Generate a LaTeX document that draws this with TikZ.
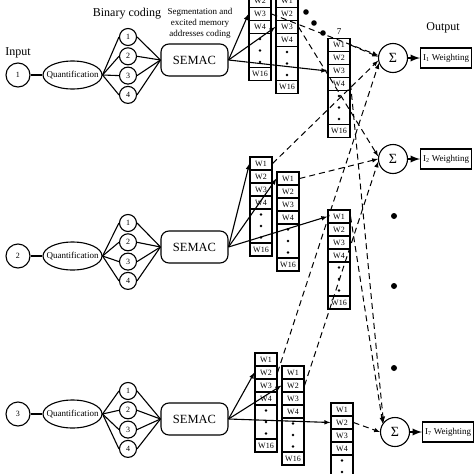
\documentclass[tikz,border=0pt]{standalone}
\usepackage{fontspec}
\setmainfont{Liberation Serif}
\usepackage{tikz}
\usetikzlibrary{shapes.geometric}
\usetikzlibrary{positioning}

\tikzset{
	lbl/.style={inner sep=0pt,font=\fontsize{12}{14}\selectfont},
	inp/.style={draw,circle,minimum size=24pt,inner sep=0pt,font=\fontsize{8}{9}\selectfont},
	bit/.style={draw,circle,minimum size=17pt,inner sep=0pt,font=\fontsize{8}{9}\selectfont},
	quant/.style={draw,ellipse,minimum width=59pt,minimum height=28pt,inner sep=0pt,font=\fontsize{9}{10}\selectfont},
	semac/.style={draw,rounded corners=8pt,minimum width=67pt,minimum height=32pt,inner sep=0pt,font=\fontsize{12.5}{14}\selectfont},
	cell/.style={draw,minimum width=22pt,minimum height=13pt,inner sep=0pt,font=\fontsize{8}{9}\selectfont},
	sumnode/.style={draw,circle,minimum size=29pt,inner sep=0pt,font=\fontsize{14}{15}\selectfont},
	outbox/.style={draw,minimum width=51pt,minimum height=20pt,inner sep=0pt,font=\fontsize{9}{10}\selectfont},
	link/.style={->,line width=1pt,dash pattern=on 6pt off 4pt},
}

% memory column: name, left x, top y
\newcommand{\memcol}[3]{%
	\foreach \r in {1,...,4}{
		\node[cell] (#1-\r) at (#2+11,#3+13*\r-6.5) {W\r};
	}
	\node[cell,minimum height=34pt] (#1-d) at (#2+11,#3+69) {};
	\foreach \d in {5.5,17,28.5}{
		\fill (#2+11,#3+52+\d) circle (1.4pt);
	}
	\node[cell] (#1-16) at (#2+11,#3+92.5) {W16};
}

\begin{document}
\begin{tikzpicture}[x=1pt,y=-1pt,>=latex,line width=1.1pt]
	\useasboundingbox (0,0) rectangle (474,474);
	\clip (0,0) rectangle (474,474);
	% inputs, quantification, binary coding, SEMAC
	\foreach \g/\yq/\ys/\yb in {1/75/60/37, 2/256/247/223, 3/414/419/391}{
		\node[inp] (in\g) at (18,\yq) {\g};
		\node[quant] (q\g) at (72.5,\yq) {\makebox[0pt]{Quantification}};
		\node[semac] (sem\g) at (194.5,\ys) {SEMAC};
		\draw (in\g) -- (q\g);
		\foreach \k in {1,...,4}{
			\node[bit] (b\g\k) at (128,\yb+19.3*\k-19.3) {\k};
			\draw (q\g.east) -- (b\g\k.west);
			\draw (b\g\k.east) -- (sem\g.west);
		}
	}
	% memory columns
	\foreach \g/\col/\xx/\yy in {1/a/249/-18.5, 1/b/276/-5.5, 1/c/328/38.5,
		2/a/250/157, 2/b/277/172, 2/c/328/210,
		3/a/255/353, 3/b/282/366, 3/c/331/403}{
		\memcol{\g\col}{\xx}{\yy}
	}
	\foreach \g/\t in {1/3, 2/1, 3/2}{
		\foreach \col in {a,b,c}{
			\draw[->] (sem\g.east) -- (\g\col-\t.west);
		}
	}
	\foreach \px/\py in {306/12, 314/23, 323/33}{
		\fill (\px,\py) circle (2.8pt);
	}
	% outputs
	\foreach \j/\xs/\ys/\n in {1/393/58/1, 2/393/159/2, 3/395/432/7}{
		\node[sumnode] (sig\j) at (\xs,\ys) {Σ};
		\node[outbox,right=12pt of sig\j] (out\j) {I\textsubscript{\n} Weighting};
		\draw[->,line width=2.2pt] (sig\j) -- (out\j);
	}
	\foreach \py in {216,286,368}{
		\fill (394,\py) circle (3pt);
	}
	\foreach \s/\e in {1a-3/sig1.170, 1c-1/sig1.175, 2a-1/sig1.190, 3a-2/sig1.200,
		1b-3/sig2.170, 2b-1/sig2.180, 3b-2/sig2.190,
		1c-4/sig3.140, 2c-1/sig3.145, 3c-2/sig3.180}{
		\draw[link] (\s.east) -- (\e);
	}
	% labels
	\node[lbl] (inputlbl) at (18,53) {Input};
	\node[lbl] (binlbl) at (127,14) {Binary coding};
	\node[lbl,align=center,font=\fontsize{9}{11}\selectfont] (seglbl) at (200,23) {Segmentation and\\excited memory\\addresses coding};
	\node[lbl] (outlbl) at (443,28) {Output};
	\node[lbl,font=\fontsize{9}{10}\selectfont] (seven) at (339,32) {7};
\end{tikzpicture}
\end{document}
